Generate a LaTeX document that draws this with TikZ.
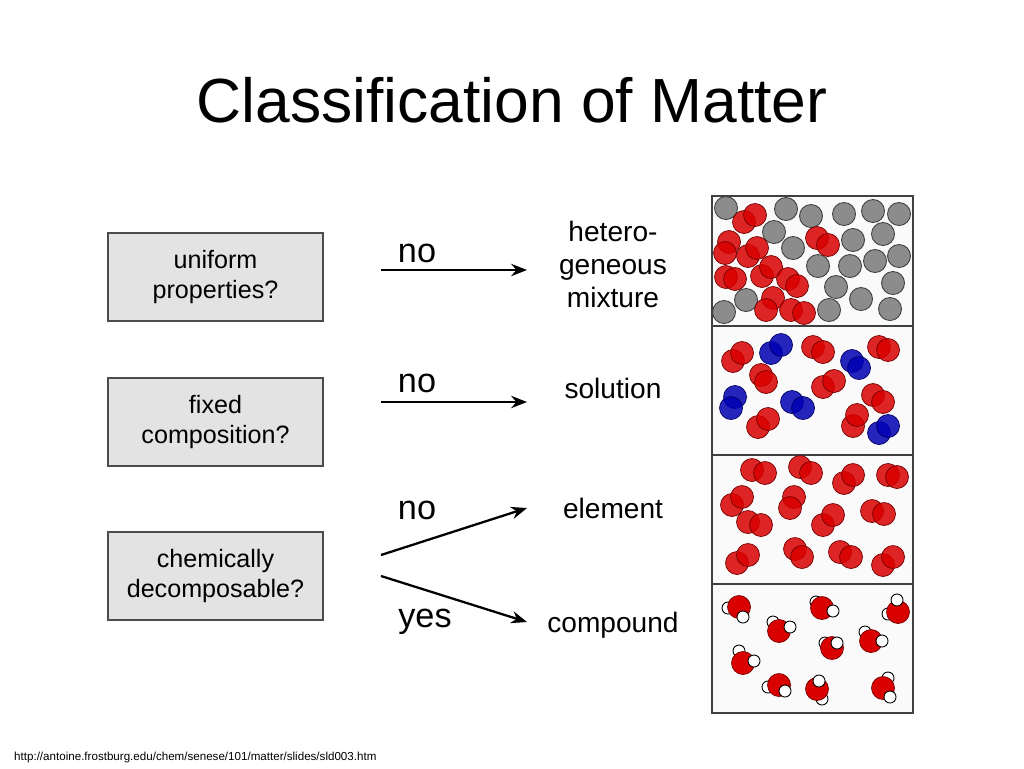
\documentclass[tikz,border=0pt]{standalone}
\usepackage{fontspec}
\setmainfont{Liberation Sans}
\usetikzlibrary{arrows.meta}
\begin{document}
\begin{tikzpicture}[x=0.02cm,y=-0.02cm,
 qbox/.style={draw=black!70,fill=black!11,line width=0.8pt,minimum width=4.3cm,minimum height=1.76cm,align=center,font=\fontsize{14.3}{17.5}\selectfont},
 lbl/.style={font=\fontsize{19.5}{23}\selectfont},
 res/.style={align=center,font=\fontsize{16}{18.8}\selectfont},
 arr/.style={-{Stealth[length=9pt,width=7pt]},line width=1.3pt},
 redA/.style={fill=red!85!black,fill opacity=0.85,draw=red!45!black,line width=0.4pt},
 blueA/.style={fill=blue!70!black,fill opacity=0.85,draw=blue!40!black,line width=0.4pt},
 grayA/.style={fill=black!45,draw=black!75,line width=0.5pt},
 whiteA/.style={fill=white,draw=black,line width=0.5pt},
 panel/.style={draw=black!75,fill=black!2,line width=1.2pt}]
\useasboundingbox (0,0) rectangle (1024,768);
\node[font=\fontsize{35.5}{42}\selectfont] (title) at (512,100) {Classification of Matter};
\node[qbox] (q1) at (215.5,277) {uniform\\properties?};
\node[qbox] (q2) at (215.5,422) {fixed\\composition?};
\node[qbox] (q3) at (215.5,576) {chemically\\decomposable?};
\coordinate (a1s) at (381,270); \coordinate (a1e) at (527,270);
\coordinate (a2s) at (381,402); \coordinate (a2e) at (527,402);
\coordinate (a3s) at (381,555); \coordinate (a3e) at (527,508);
\coordinate (a4s) at (381,576); \coordinate (a4e) at (527,622);
\draw[arr] (a1s) -- (a1e); \draw[arr] (a2s) -- (a2e);
\draw[arr] (a3s) -- (a3e); \draw[arr] (a4s) -- (a4e);
\node[lbl] (n1) at (417,253) {no};
\node[lbl] (n2) at (417,383) {no};
\node[lbl] (n3) at (417,510) {no};
\node[lbl] (n4) at (425,622) {yes};
\node[res] (r1) at (613,264) {hetero-\\geneous\\mixture};
\node[res] (r2) at (613,388) {solution};
\node[res] (r3) at (613,508) {element};
\node[res] (r4) at (613,625) {compound};
\node[font=\fontsize{6.6}{8}\selectfont,anchor=west] (src) at (8,757) {http://antoine.frostburg.edu/chem/senese/101/matter/slides/sld003.htm};
% panels
\draw[panel] (712,196) rectangle (913,326);
\draw[panel] (712,326) rectangle (913,455);
\draw[panel] (712,455) rectangle (913,584);
\draw[panel] (712,584) rectangle (913,713);
\def\R{11.5}
% heterogeneous
\foreach \p in {(726,208),(786,209),(811,216),(844,214),(873,211),(899,214),(774,232),(793,248),(853,240),(883,234),(818,266),(850,266),(875,261),(899,256),(836,287),(893,283),(746,300),(724,312),(861,299),(829,310),(890,309)}
  \draw[grayA] \p circle (\R);
\foreach \a/\b in {{744,222}/{755,215},{729,242}/{725,253},{748,256}/{757,248},{726,277}/{735,279},{762,276}/{771,267},{788,279}/{797,286},{817,238}/{828,245},{773,298}/{766,310},{791,310}/{804,313}}
  {\draw[redA] (\a) circle (\R); \draw[redA] (\b) circle (\R);}
% solution
\foreach \a/\b in {{733,361}/{742,353},{761,375}/{766,382},{813,347}/{823,352},{879,347}/{888,350},{823,387}/{834,381},{873,395}/{883,402},{758,427}/{768,419},{853,426}/{857,415}}
  {\draw[redA] (\a) circle (\R); \draw[redA] (\b) circle (\R);}
\foreach \a/\b in {{771,353}/{781,345},{852,361}/{859,368},{735,397}/{731,408},{792,402}/{803,408},{879,433}/{888,426}}
  {\draw[blueA] (\a) circle (\R); \draw[blueA] (\b) circle (\R);}
% element
\foreach \a/\b in {{752,470}/{765,473},{800,467}/{811,473},{844,483}/{853,475},{888,475}/{897,477},{732,505}/{742,497},{794,497}/{790,508},{748,522}/{761,525},{823,525}/{833,515},{872,511}/{884,514},{737,563}/{748,555},{795,549}/{802,557},{840,552}/{851,557},{883,565}/{893,557}}
  {\draw[redA] (\a) circle (\R); \draw[redA] (\b) circle (\R);}
% compound
\foreach \o/\ha/\hb in {{739,607}/{728,608}/{743,617},{779,631}/{773,622}/{790,627},{822,608}/{816,602}/{833,611},{898,612}/{888,614}/{897,600},{743,663}/{739,651}/{754,661},{832,648}/{825,643}/{837,643},{871,641}/{865,632}/{882,641},{779,685}/{768,687}/{785,691},{817,689}/{822,699}/{819,681},{883,688}/{888,678}/{890,697}}
  {\draw[whiteA] (\ha) circle (6); \draw[fill=red!85!black,draw=red!45!black,line width=0.4pt] (\o) circle (11.5); \draw[whiteA] (\hb) circle (6);}
\end{tikzpicture}
\end{document}
